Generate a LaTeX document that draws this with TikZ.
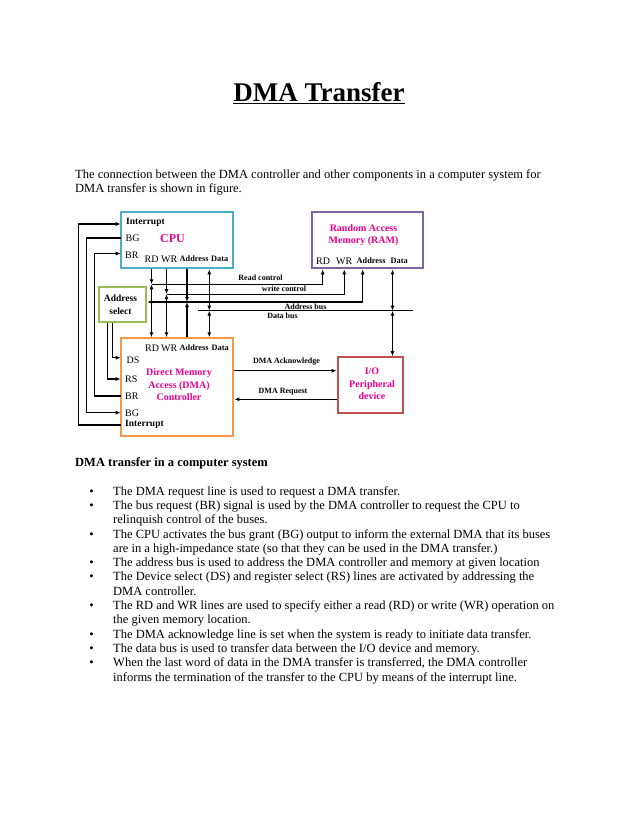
\documentclass[tikz,border=0pt]{standalone}
\usepackage{fontspec}
\setmainfont{Liberation Serif}
\usepackage{tikz}
\usetikzlibrary{arrows.meta,positioning,calc}
\definecolor{cpucyan}{RGB}{75,172,198}
\definecolor{rampurple}{RGB}{128,100,162}
\definecolor{selgreen}{RGB}{155,187,89}
\definecolor{dmaorange}{RGB}{247,150,70}
\definecolor{iored}{RGB}{192,80,77}
\definecolor{unitmagenta}{RGB}{236,0,140}

\begin{document}
\begin{tikzpicture}[x=1pt, y=-1pt, >={Latex[length=5pt,width=4pt]}]
\tikzset{
  unit/.style={draw, line width=2.2pt, fill=white, inner sep=0},
  wire/.style={line width=1.1pt},
  sig/.style={inner sep=0, font=\fontsize{10}{11}\selectfont},
  sigb/.style={inner sep=0, font=\bfseries\fontsize{9.5}{10}\selectfont},
  sigs/.style={inner sep=0, font=\bfseries\fontsize{8.3}{9}\selectfont},
  busl/.style={inner sep=0, font=\bfseries\fontsize{8}{9}\selectfont},
  unitname/.style={inner sep=0, text=unitmagenta, align=center, font=\bfseries\fontsize{10}{12.5}\selectfont},
  txt/.style={anchor=base west, inner sep=0, font=\fontsize{12.5}{14.4}\selectfont}
}
\useasboundingbox (0,0) rectangle (638,826);
\fill[white] (0,0) rectangle (638,826);

% page text
\node[anchor=base, inner sep=0, font=\bfseries\fontsize{27}{32}\selectfont] (head) at (319,101.7) {DMA Transfer};
\draw[line width=1.5pt] ([yshift=-2pt]head.base west) -- ([yshift=-2pt]head.base east);
\node[txt] (intro1) at (75,178.7) {The connection between the DMA controller and other components in a computer system for};
\node[txt] (intro2) at (75,193) {DMA transfer is shown in figure.};

% units
\node[unit, draw=cpucyan, minimum width=112pt, minimum height=56pt] (cpu) at (176.9,240.3) {};
\node[unit, draw=rampurple, minimum width=111.6pt, minimum height=56.6pt] (ram) at (367.5,240) {};
\node[unit, draw=selgreen, minimum width=46.7pt, minimum height=35pt] (adsel) at (122.7,304.2) {};
\node[unit, draw=dmaorange, minimum width=112.6pt, minimum height=97.7pt] (dma) at (177,387.2) {};
\node[unit, draw=iored, minimum width=65.6pt, minimum height=56pt] (io) at (370.5,385.3) {};

\node[unitname, font=\bfseries\fontsize{12}{14}\selectfont] (cpuname) at (172.5,239) {CPU};
\node[unitname] (ramname) at (363.5,235) {Random Access\\Memory (RAM)};
\node[unitname] (dmaname) at (179,384.8) {Direct Memory\\Access (DMA)\\Controller};
\node[unitname] (ioname) at (372,383.8) {I/O\\Peripheral\\device};
\node[sigb, align=center, font=\bfseries\fontsize{9.5}{13}\selectfont] (adselname) at (120.5,304.5) {Address\\select};

% pin labels
\node[sigb, anchor=west] (cint) at (126,222.5) {Interrupt};
\node[sig, anchor=west] (cbg) at (125.5,238.5) {BG};
\node[sig, anchor=west] (cbr) at (125,255.5) {BR};
\node[sig, anchor=west] (crd) at (144.5,259.5) {RD};
\node[sig, anchor=west] (cwr) at (161,259.5) {WR};
\node[sigs, anchor=west] (cad) at (179.5,259) {Address};
\node[sigs, anchor=west] (cda) at (211,259) {Data};

\node[sig, anchor=west] (rrd) at (316,261) {RD};
\node[sig, anchor=west] (rwr) at (336,261) {WR};
\node[sigs, anchor=west] (rad) at (356.5,261) {Address};
\node[sigs, anchor=west] (rda) at (390.5,261) {Data};

\node[sig, anchor=west] (drd) at (145,348.5) {RD};
\node[sig, anchor=west] (dwr) at (161,348.5) {WR};
\node[sigs, anchor=west] (dad) at (179.5,348) {Address};
\node[sigs, anchor=west] (dda) at (211.5,348) {Data};
\node[sig, anchor=west] (dds) at (126.5,360) {DS};
\node[sig, anchor=west] (drs) at (125,379) {RS};
\node[sig, anchor=west] (dbr) at (125,396.5) {BR};
\node[sig, anchor=west] (dbg) at (125,413) {BG};
\node[sigb, anchor=west] (dint) at (125,424.5) {Interrupt};

% rails, columns and rows
\coordinate (railINT) at (78.5,0);
\coordinate (railBG) at (86.8,0);
\coordinate (railBR) at (94.8,0);
\coordinate (railRS) at (107.8,0);
\coordinate (railDS) at (112.5,0);
\coordinate (colRD) at (151.5,0);
\coordinate (colWR) at (166.5,0);
\coordinate (colAD) at (187,0);
\coordinate (colDA) at (209.3,0);
\coordinate (colRRD) at (322.7,0);
\coordinate (colRWR) at (344.3,0);
\coordinate (colRAD) at (362.7,0);
\coordinate (colRDA) at (392.5,0);
\coordinate (rowRC) at (0,284.3);
\coordinate (rowWC) at (0,294.2);
\coordinate (rowAB) at (0,302);
\coordinate (rowDB) at (0,310.7);
\coordinate (rowACK) at (0,370.7);
\coordinate (rowREQ) at (0,399.3);
\coordinate (cINT) at (120.7,224);
\coordinate (cBG) at (120.7,238);
\coordinate (cBR) at (120.7,253.5);
\coordinate (dDS) at (120.7,357.7);
\coordinate (dRS) at (120.7,379);
\coordinate (dBR) at (120.7,396);
\coordinate (dBG) at (120.7,412.7);
\coordinate (dINT) at (120.7,425);
\coordinate (dbL) at (197.7,310.7);
\coordinate (dbR) at (412.7,310.7);

% control lines
\draw[wire,->] (dINT) -- (dINT -| railINT) |- (cINT);
\draw[wire,->] (cBG) -- (cBG -| railBG) |- (dBG);
\draw[wire,->] (dBR) -- (dBR -| railBR) |- (cBR);
\draw[wire,->] (adsel.south -| railRS) |- (dRS);
\draw[wire,->] (adsel.south -| railDS) |- (dDS);

% system bus
\draw[wire,->] (cpu.south -| colRD) -- (colRD |- rowRC);
\draw[wire,<->] (dma.north -| colRD) -- (colRD |- rowRC);
\draw[wire,->] (colRD |- rowRC) -| (ram.south -| colRRD);
\draw[wire,->] (cpu.south -| colWR) -- (colWR |- rowWC);
\draw[wire,<->] (dma.north -| colWR) -- (colWR |- rowWC);
\draw[wire,->] (colWR |- rowWC) -| (ram.south -| colRWR);
\draw[wire,->] (cpu.south -| colAD) -- (colAD |- rowAB);
\draw[wire,->] (dma.north -| colAD) -- (colAD |- rowAB);
\draw[wire,<->] (adsel.east |- rowAB) -| (ram.south -| colRAD);
\draw[wire] (dbL) -- (dbR);
\draw[wire,<->] (cpu.south -| colDA) -- (colDA |- rowDB);
\draw[wire,<->] (dma.north -| colDA) -- (colDA |- rowDB);
\draw[wire,<->] (ram.south -| colRDA) -- (colRDA |- rowDB);
\draw[wire,<->] (io.north -| colRDA) -- (colRDA |- rowDB);
\draw[wire,->] (dma.east |- rowACK) -- (io.west |- rowACK);
\draw[wire,->] (io.west |- rowREQ) -- (dma.east |- rowREQ);

\node[busl] (rclab) at (260.5,278) {Read control};
\node[busl] (wclab) at (284,289) {write control};
\node[busl] (ablab) at (305.5,306.3) {Address bus};
\node[busl] (dblab) at (282.5,315.8) {Data bus};
\node[busl] (acklab) at (286.5,361.5) {DMA Acknowledge};
\node[busl] (reqlab) at (283,392) {DMA Request};

% list
\node[txt, font=\bfseries\fontsize{12.5}{14.4}\selectfont] (caption) at (75,466) {DMA transfer in a computer system};
\foreach \y [count=\i] in {495,509.3,538,566.6,580.9,609.6,638.2,652.5,666.8}
  \node[txt, anchor=base] (dot\i) at (91.5,\y) {•};
\node[txt] (l1) at (113,495) {The DMA request line is used to request a DMA transfer.};
\node[txt] (l2) at (113,509.3) {The bus request (BR) signal is used by the DMA controller to request the CPU to};
\node[txt] (l3) at (113,523.6) {relinquish control of the buses.};
\node[txt] (l4) at (113,538) {The CPU activates the bus grant (BG) output to inform the external DMA that its buses};
\node[txt] (l5) at (113,552.3) {are in a high-impedance state (so that they can be used in the DMA transfer.)};
\node[txt] (l6) at (113,566.6) {The address bus is used to address the DMA controller and memory at given location};
\node[txt] (l7) at (113,580.9) {The Device select (DS) and register select (RS) lines are activated by addressing the};
\node[txt] (l8) at (113,595.2) {DMA controller.};
\node[txt] (l9) at (113,609.6) {The RD and WR lines are used to specify either a read (RD) or write (WR) operation on};
\node[txt] (l10) at (113,623.9) {the given memory location.};
\node[txt] (l11) at (113,638.2) {The DMA acknowledge line is set when the system is ready to initiate data transfer.};
\node[txt] (l12) at (113,652.5) {The data bus is used to transfer data between the I/O device and memory.};
\node[txt] (l13) at (113,666.8) {When the last word of data in the DMA transfer is transferred, the DMA controller};
\node[txt] (l14) at (113,681.2) {informs the termination of the transfer to the CPU by means of the interrupt line.};
\end{tikzpicture}
\end{document}
